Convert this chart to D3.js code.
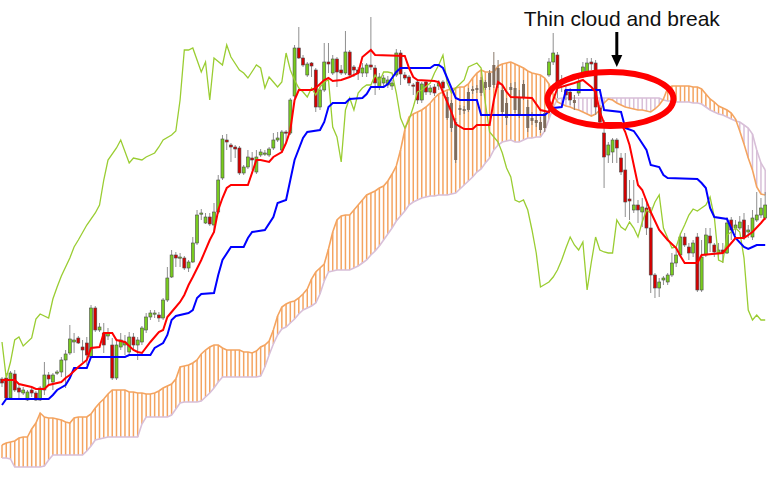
<!DOCTYPE html>
<html><head><meta charset="utf-8">
<script src="https://cdn.jsdelivr.net/npm/d3@7"></script>
<style>html,body{margin:0;padding:0;background:#fff;}svg{display:block;}</style>
</head><body>
<svg id="chart" width="768" height="488"></svg>
<script>
// ---------- data (price units, one entry per candle) ----------
const openP = [
121,122,102,126,112,107,100,110,107,100,
110,125,118,127,128,140,147,158,162,153,
157,143,192,170,167,164,155,122,153,155,
148,163,155,158,170,183,186,185,182,200,
223,245,242,242,232,238,257,286,277,283,
275,288,322,360,355,353,352,327,333,342,
328,345,346,345,352,360,350,368,367,404,
452,442,425,437,430,393,410,438,427,441,
430,427,448,433,430,427,427,435,432,413,
417,415,414,425,447,425,423,415,418,400,
418,408,413,414,418,403,397,378,392,391,
408,411,412,420,418,427,435,432,410,397,
413,412,403,416,393,382,380,378,372,425,
438,445,420,410,408,400,407,425,425,438,
437,392,367,345,348,360,342,330,301,290,
295,288,292,272,225,212,220,218,225,237,
245,263,253,247,263,210,245,264,255,247,
250,247,280,272,272,280,268,263,280,285,282];
const highP = [
123,127,129,130,115,113,110,112,109,114,
138,128,127,130,143,150,175,167,164,160,
163,195,194,177,177,172,162,160,167,165,
168,167,163,174,187,190,190,188,202,233,
250,248,247,244,240,263,290,291,287,287,
297,325,365,366,357,355,354,335,350,348,
350,351,350,353,367,368,370,370,402,455,
473,445,438,438,432,415,457,457,445,443,
435,469,450,435,433,437,437,483,435,427,
425,424,420,451,450,428,425,417,420,418,
420,415,416,420,420,408,400,382,395,394,
412,414,415,423,420,430,448,440,415,402,
417,418,410,420,400,388,385,383,390,442,
467,448,425,415,412,405,422,438,442,442,
440,395,380,358,362,362,347,347,320,320,
300,302,300,293,227,222,224,227,247,253,
267,267,257,260,267,260,272,272,257,257,
257,283,283,280,284,287,275,290,308,302,308];
const lowP = [
113,101,100,108,102,105,99,103,99,99,
105,115,110,125,123,112,145,147,156,138,
135,142,168,168,147,160,120,120,150,145,
145,150,140,155,167,180,182,178,180,198,
222,233,233,230,228,237,255,280,276,274,
267,286,320,350,338,342,325,325,331,330,
326,343,344,343,350,358,347,358,365,402,
441,433,423,423,388,390,408,427,425,413,
425,425,423,423,420,423,423,430,405,410,
414,412,410,423,415,420,414,405,396,397,
405,405,404,410,404,380,368,337,385,386,
388,406,407,404,410,410,412,412,385,375,
405,387,382,400,368,375,373,367,368,423,
435,402,408,400,395,390,404,422,423,430,
385,372,312,337,337,337,325,283,280,287,
277,273,265,207,202,203,215,215,223,233,
243,253,240,243,208,208,243,248,243,240,
237,246,260,265,270,260,262,260,278,282,280];
const closeP = [
117,102,127,110,108,110,108,107,100,112,
125,121,125,128,140,146,161,160,157,150,
145,192,170,173,155,167,122,155,160,158,
163,155,160,172,183,187,187,182,200,222,
245,242,243,232,238,257,285,287,283,276,
288,320,361,358,353,351,327,333,343,340,
343,348,347,351,360,362,368,367,400,452,
442,435,436,434,393,410,438,436,441,428,
427,448,425,430,427,432,435,433,417,423,
422,420,417,447,426,422,417,414,400,416,
408,412,407,417,412,382,372,340,390,389,
390,409,410,407,412,413,415,415,388,382,
410,390,385,403,372,379,377,370,387,438,
447,412,416,405,400,397,418,433,437,436,
393,378,343,355,360,352,328,298,299,295,
290,293,272,225,212,218,222,225,237,245,
263,255,247,257,210,243,265,257,248,250,
247,277,270,275,278,263,270,282,285,292,295];

// Senkou span A / B (per candle)
const spanA = [
55,57,58,59,62,63,63,71,77,87,
83,82,82,81,80,78,77,82,83,83,
83,86,92,97,101,106,110,110,110,110,
108,108,107,107,106,106,107,109,112,114,
116,121,133,134,135,137,140,146,150,153,
155,155,152,150,150,150,150,148,148,147,
149,153,155,159,170,184,193,196,198,199,
202,206,211,221,228,232,236,251,268,280,
284,285,285,290,295,300,305,307,309,312,
314,319,326,334,350,370,383,386,388,390,
393,397,402,406,408,410,411,412,413,413,
416,422,427,430,428,428,428,434,436,437,
438,436,434,432,429,427,426,425,422,416,
406,398,396,394,393,391,390,388,386,384,
386,390,397,401,400,397,395,393,392,391,
390,390,389,388,391,395,401,412,414,414,
414,414,414,413,413,411,406,401,398,394,
392,390,387,381,369,356,342,330,313,306,305];
const spanB = [
42,42,41,33,33,33,33,33,33,33,
34,40,45,45,45,45,45,45,45,45,
49,54,60,61,62,63,63,63,63,63,
63,63,63,76,83,83,83,83,83,83,
85,91,97,98,98,98,98,99,103,107,
112,118,123,123,123,123,123,123,123,123,
123,124,133,145,156,165,171,173,177,181,
186,190,192,194,197,206,219,228,229,230,
230,230,230,232,234,237,240,245,249,254,
260,266,272,279,284,289,295,298,300,302,
303,304,304,305,305,305,306,307,311,315,
319,323,328,331,337,342,350,355,358,359,
360,358,358,360,362,362,363,363,369,381,
392,401,402,402,402,402,402,402,402,402,
402,402,402,402,402,402,402,402,402,402,
402,402,402,402,402,402,400,399,399,398,
398,398,398,397,397,396,393,390,388,386,
385,383,381,379,378,375,372,366,350,337,330];

// Tenkan-sen [candle, price]
const tenkan = [[0,120],[3,120],[4,116],[7,113],[8,111],[10,111],[11,115],[14,118],[15,122],[16,125],[18,133],[20,140],[21,152],[23,153],[24,167],[26,167],[27,160],[29,158],[31,150],[32,148],[33,147],[35,158],[37,168],[38,170],[39,183],[40,188],[42,198],[43,205],[44,215],[45,223],[47,240],[49,260],[50,268],[51,290],[52,302],[53,312],[54,315],[58,315],[60,340],[61,340],[63,338],[64,343],[66,348],[67,357],[68,370],[69,400],[70,410],[73,410],[74,412],[76,420],[77,422],[78,419],[80,420],[82,423],[84,427],[85,443],[87,450],[88,445],[95,444],[96,432],[97,423],[98,420],[102,419],[103,418],[104,408],[106,388],[107,376],[109,371],[111,371],[112,375],[115,375],[116,400],[117,418],[118,415],[119,408],[120,403],[125,402],[127,390],[129,388],[131,412],[135,417],[137,420],[139,413],[140,408],[141,388],[142,377],[146,377],[147,368],[148,355],[150,315],[151,310],[153,288],[155,270],[157,260],[159,252],[160,244],[161,237],[164,237],[165,245],[170,247],[171,252],[173,262],[175,262],[177,268],[179,277],[180,282]];
// Kijun-sen [candle, price]
const kijun = [[0,95],[1,101],[11,101],[12,105],[13,110],[15,115],[16,122],[17,132],[20,132],[21,143],[29,143],[30,145],[35,145],[36,152],[38,157],[39,165],[40,180],[41,184],[44,187],[45,190],[46,202],[47,206],[50,207],[51,225],[52,240],[54,253],[57,253],[58,262],[59,268],[62,270],[64,283],[65,297],[67,300],[68,320],[69,340],[71,362],[72,368],[75,370],[76,378],[77,393],[78,397],[81,397],[82,401],[85,402],[86,406],[87,413],[90,413],[91,416],[93,428],[94,432],[101,432],[102,435],[103,435],[104,432],[105,422],[107,402],[108,400],[112,400],[113,385],[128,385],[130,392],[132,393],[133,410],[141,410],[142,390],[146,388],[147,372],[149,369],[150,363],[152,350],[153,335],[155,333],[156,325],[157,322],[164,321],[165,317],[166,312],[167,292],[168,283],[171,281],[173,262],[175,253],[176,251],[177,253],[178,255],[180,255]];
// Chikou span [candle, price]
const chikou = [[0,158],[1,122],[2,138],[3,160],[4,163],[5,154],[7,162],[8,181],[9,186],[11,182],[12,201],[13,213],[14,224],[16,242],[17,253],[18,260],[20,275],[22,287],[23,295],[24,320],[25,340],[27,352],[28,360],[30,337],[31,342],[33,340],[34,343],[36,347],[37,353],[38,360],[40,365],[41,369],[42,400],[43,450],[44,450],[45,452],[47,428],[48,438],[49,400],[50,442],[52,435],[53,455],[54,443],[56,430],[57,427],[58,422],[60,435],[61,432],[62,412],[63,423],[64,418],[65,413],[66,418],[67,447],[68,430],[69,420],[70,412],[71,408],[72,403],[73,412],[74,405],[75,413],[76,418],[77,420],[78,373],[79,363],[80,338],[81,390],[82,402],[83,390],[84,407],[85,412],[86,415],[87,415],[88,425],[89,418],[90,428],[91,428],[92,427],[93,407],[94,382],[95,372],[96,380],[97,393],[98,408],[99,410],[101,417],[102,427],[103,435],[104,445],[105,417],[106,407],[107,412],[108,416],[109,420],[110,433],[112,437],[113,432],[114,397],[115,368],[116,363],[117,358],[118,347],[119,332],[120,323],[121,300],[122,298],[123,300],[124,290],[125,270],[126,247],[127,213],[129,218],[130,223],[131,230],[132,240],[133,252],[134,263],[135,255],[136,250],[137,258],[138,210],[139,238],[140,263],[141,250],[142,248],[143,247],[144,247],[145,280],[146,273],[147,270],[148,278],[149,272],[150,263],[151,278],[152,290],[153,287],[154,298],[155,305],[156,272],[157,262],[158,252],[159,253],[160,266],[161,275],[162,285],[163,291],[164,289],[165,292],[166,295],[167,303],[168,283],[169,240],[170,238],[171,265],[172,268],[173,272],[174,268],[175,242],[176,190],[177,180],[178,185],[179,180],[180,180]];

// annotation
const noteText = "Thin cloud and break";
const noteCandle = 145;      // arrow points at this candle
const ringCenter = [143.5, 401]; // candle, price

// ---------- drawing ----------
const W = 768, H = 488;
const svg = d3.select('#chart');
const n = closeP.length;
const idx = d3.range(n);
const x = d3.scaleLinear().domain([0, n - 1]).range([2, 765.2]);
const y = d3.scaleLinear().domain([0, 500]).range([500, 0]);

const ORANGE = '#f4a460', THISTLE = '#d8bfd8';

// cloud stripes
svg.append('g').selectAll('line').data(idx).join('line')
  .attr('x1', i => x(i)).attr('x2', i => x(i))
  .attr('y1', i => y(spanA[i])).attr('y2', i => y(spanB[i]))
  .attr('stroke', i => spanA[i] >= spanB[i] ? ORANGE : THISTLE)
  .attr('stroke-width', 1.5);

const lineIdx = d3.line().x(i => x(i));
svg.append('path').attr('d', lineIdx.y(i => y(spanB[i]))(idx))
  .attr('fill', 'none').attr('stroke', THISTLE).attr('stroke-width', 1.6);
svg.append('path').attr('d', d3.line().x(i => x(i)).y(i => y(spanA[i]))(idx))
  .attr('fill', 'none').attr('stroke', ORANGE).attr('stroke-width', 1.6);

// candles
const inCloud = i => {
  const top = Math.max(spanA[i], spanB[i]), bot = Math.min(spanA[i], spanB[i]);
  const mid = (openP[i] + closeP[i]) / 2;
  return mid < top && mid > bot;
};
const cg = svg.append('g');
cg.selectAll('line').data(idx).join('line')
  .attr('x1', i => x(i)).attr('x2', i => x(i))
  .attr('y1', i => y(highP[i])).attr('y2', i => y(lowP[i]))
  .attr('stroke', i => inCloud(i) ? '#8a7a6c' : '#8f8f8f').attr('stroke-width', 1);
cg.selectAll('rect').data(idx).join('rect')
  .attr('x', i => x(i) - 1.5).attr('width', 3)
  .attr('y', i => y(Math.max(openP[i], closeP[i])))
  .attr('height', i => Math.max(1.2, Math.abs(y(openP[i]) - y(closeP[i]))))
  .attr('fill', i => inCloud(i) ? '#7f6c5c' : (closeP[i] >= openP[i] ? '#78cc1e' : '#d40000'))
  .attr('stroke', i => inCloud(i) ? 'none' : '#4a4a4a')
  .attr('stroke-width', 0.6);

// indicator lines
const lp = d3.line().x(d => x(d[0])).y(d => y(d[1]));
svg.append('path').attr('d', lp(chikou)).attr('fill', 'none')
  .attr('stroke', '#9acd32').attr('stroke-width', 1.3);
svg.append('path').attr('d', lp(kijun)).attr('fill', 'none')
  .attr('stroke', '#0000ff').attr('stroke-width', 2);
svg.append('path').attr('d', lp(tenkan)).attr('fill', 'none')
  .attr('stroke', '#ff0000').attr('stroke-width', 2);

// annotation
svg.append('ellipse')
  .attr('cx', x(ringCenter[0])).attr('cy', y(ringCenter[1]))
  .attr('rx', 63).attr('ry', 27)
  .attr('fill', 'none').attr('stroke', '#ff0000').attr('stroke-width', 6);
const ax = x(noteCandle);
svg.append('line').attr('x1', ax).attr('x2', ax).attr('y1', 32).attr('y2', 57)
  .attr('stroke', '#000').attr('stroke-width', 3);
svg.append('path').attr('d', `M${ax - 5.5},55 L${ax + 5.5},55 L${ax},67 Z`).attr('fill', '#000');
svg.append('text').attr('x', ax + 5).attr('y', 26)
  .attr('text-anchor', 'middle')
  .attr('font-family', 'Liberation Sans, Arial, sans-serif')
  .attr('font-size', 21).attr('fill', '#111')
  .text(noteText);
</script>
</body></html>
